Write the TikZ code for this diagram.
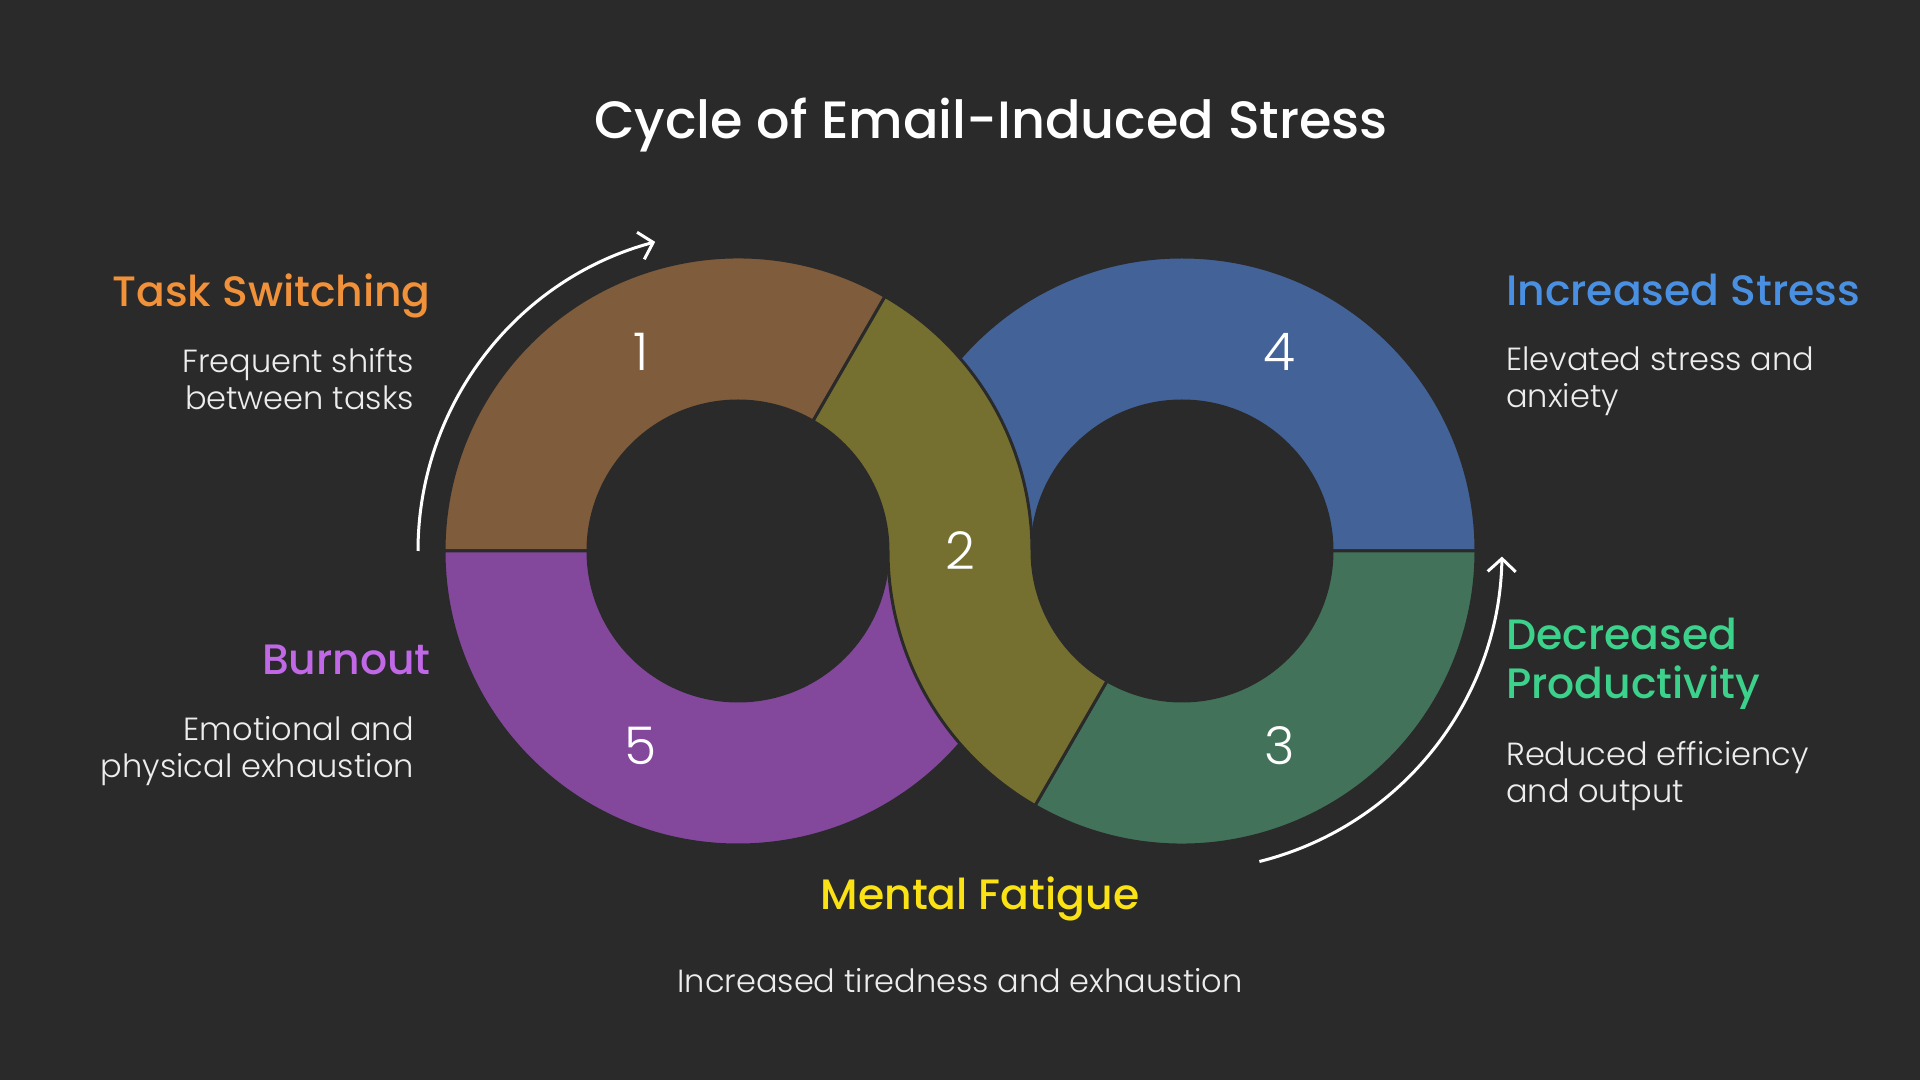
\documentclass[tikz,border=0pt]{standalone}
\usepackage{fontspec}
\setmainfont{Poppins}
\newfontfamily\headfont{Poppins Medium}
\newfontfamily\lightfont{Poppins Light}
\usetikzlibrary{arrows.meta}
\definecolor{bgdark}{HTML}{2A2A2A}
\definecolor{segbrown}{HTML}{7F5C3B}
\definecolor{segolive}{HTML}{767030}
\definecolor{segblue}{HTML}{436398}
\definecolor{seggreen}{HTML}{42735A}
\definecolor{segpurple}{HTML}{83489C}
\definecolor{txtorange}{HTML}{F19139}
\definecolor{txtblue}{HTML}{4A90E2}
\definecolor{txtgreen}{HTML}{3DD28C}
\definecolor{txtpurple}{HTML}{C068E6}
\definecolor{txtyellow}{HTML}{FAE214}
\definecolor{txtlight}{HTML}{EDEDED}
\begin{document}
\begin{tikzpicture}[x=1pt,y=1pt,
  seg/.style={draw=bgdark, line width=3pt, line join=round},
  cyclearrow/.style={draw=white, line width=3pt, -{Straight Barb[length=13pt,width=28pt]}},
  headtext/.style={inner sep=0pt, font=\headfont\fontsize{42.5}{49}\selectfont},
  desctext/.style={inner sep=0pt, text=txtlight, font=\lightfont\fontsize{32}{37}\selectfont},
  numtext/.style={inner sep=0pt, text=white, font=\lightfont\fontsize{52}{52}\selectfont}]
%set diagram: 1920 x 1080
\fill[bgdark] (0,0) rectangle (1920,1080);
\useasboundingbox (0,0) rectangle (1920,1080);

\coordinate (lc) at (738,529);
\coordinate (rc) at (1182,529);

%Shape: Ring part 1
\filldraw[seg, fill=segbrown] ([shift={(60:294)}]lc) arc[start angle=60, end angle=180, radius=294]
  -- ([shift={(180:150)}]lc) arc[start angle=180, end angle=60, radius=150] -- cycle;
%Shape: Ring part 5
\filldraw[seg, fill=segpurple] ([shift={(180:294)}]lc) arc[start angle=180, end angle=360, radius=294]
  -- ([shift={(0:150)}]lc) arc[start angle=360, end angle=180, radius=150] -- cycle;
%Shape: Ring part 4
\filldraw[seg, fill=segblue] ([shift={(0:294)}]rc) arc[start angle=0, end angle=180, radius=294]
  -- ([shift={(180:150)}]rc) arc[start angle=180, end angle=0, radius=150] -- cycle;
%Shape: Ring part 3
\filldraw[seg, fill=seggreen] ([shift={(240:294)}]rc) arc[start angle=240, end angle=360, radius=294]
  -- ([shift={(0:150)}]rc) arc[start angle=360, end angle=240, radius=150] -- cycle;
%Shape: Ring part 2 (crossing)
\filldraw[seg, fill=segolive] ([shift={(60:294)}]lc) arc[start angle=60, end angle=0, radius=294]
  arc[start angle=180, end angle=240, radius=150]
  -- ([shift={(240:294)}]rc) arc[start angle=240, end angle=180, radius=294]
  arc[start angle=0, end angle=60, radius=150] -- cycle;

%Straight Lines: cycle arrows
\draw[cyclearrow] ([shift={(180:320)}]lc) arc[start angle=180, end angle=105, radius=320];
\draw[cyclearrow] ([shift={(-76:320)}]rc) arc[start angle=-76, end angle=-1, radius=320];

% Text Node
\node (num1) [numtext] at ([shift={(116:222)}]lc) {1};
\node (num2) [numtext] at ([shift={(0:222)}]lc) {2};
\node (num3) [numtext, yshift=5pt] at ([shift={(-64:222)}]rc) {3};
\node (num4) [numtext] at ([shift={(64:222)}]rc) {4};
\node (num5) [numtext, yshift=5pt] at ([shift={(-116:222)}]lc) {5};

% Text Node
\node (title) [inner sep=0pt, text=white, font=\headfont\fontsize{52.5}{60}\selectfont] at (991,955) {Cycle of Email-Induced Stress};
% Text Node
\node (taskhead) [headtext, text=txtorange, anchor=east] at (431,784) {Task Switching};
\node (taskdesc) [desctext, anchor=east, align=right] at (414,701) {Frequent shifts\\between tasks};
% Text Node
\node (burnhead) [headtext, text=txtpurple, anchor=east] at (431,420) {Burnout};
\node (burndesc) [desctext, anchor=east, align=right] at (414,329) {Emotional and\\physical exhaustion};
% Text Node
\node (stresshead) [headtext, text=txtblue, anchor=west] at (1506,790) {Increased Stress};
\node (stressdesc) [desctext, anchor=west, align=left] at (1506,699) {Elevated stress and\\anxiety};
% Text Node
\node (prodhead) [headtext, text=txtgreen, anchor=west, align=left] at (1506,416) {Decreased\\Productivity};
\node (proddesc) [desctext, anchor=west, align=left] at (1506,304) {Reduced efficiency\\and output};
% Text Node
\node (fatiguehead) [headtext, text=txtyellow] at (980,181) {Mental Fatigue};
\node (fatiguedesc) [desctext] at (960,99) {Increased tiredness and exhaustion};
\end{tikzpicture}
\end{document}
